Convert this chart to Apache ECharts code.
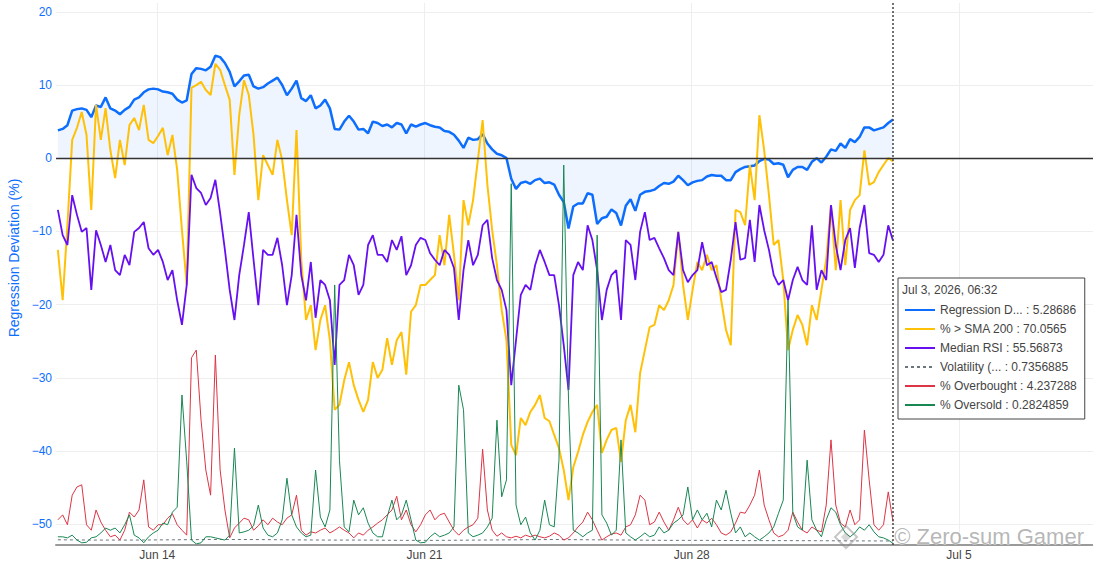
<!DOCTYPE html>
<html>
<head>
<meta charset="utf-8">
<script src="https://cdn.jsdelivr.net/npm/echarts@6/dist/echarts.min.js"></script>
<style>html,body{margin:0;padding:0;background:#fff}#c{width:1093px;height:565px}</style>
</head>
<body>
<div id="c"></div>
<script>
// ---- time sampling ----
const startTime = '2026-06-11T09:32:00Z';
const stepHours = 3;
const hoverLabel = 'Jul 3, 2026, 06:32';
const monthNames = ['Jan','Feb','Mar','Apr','May','Jun','Jul','Aug','Sep','Oct','Nov','Dec'];
const yAxisTitle = 'Regression Deviation (%)';
const watermark = '\u00A9 Zero-sum Gamer';

// ---- series values (3-hourly) ----
const regressionDeviation = [3.8,4.0,4.5,6.5,6.7,6.8,6.6,5.6,7.2,7.0,
 8.3,6.8,6.5,6.0,6.6,7.0,8.0,8.3,9.0,9.4,
 9.5,9.4,9.1,9.0,8.8,8.0,7.6,7.9,11.5,12.3,
 12.2,12.0,12.5,14.0,13.8,13.0,11.8,9.8,10.5,11.3,
 11.4,9.8,9.5,9.7,10.2,10.6,11.0,10.0,8.6,9.5,
 10.6,8.2,7.8,8.6,6.8,7.2,8.0,6.8,4.0,3.9,
 5.0,5.8,5.0,3.9,4.0,3.4,5.0,4.8,4.4,4.6,
 4.2,4.8,4.6,3.4,4.6,4.3,4.6,4.8,4.5,4.3,
 4.2,3.7,3.6,3.2,2.4,1.4,2.8,2.5,2.6,3.3,
 2.0,1.2,0.6,0.4,0.0,-2.8,-4.2,-3.4,-3.2,-3.5,
 -3.0,-2.8,-3.4,-3.3,-3.6,-5.0,-6.0,-9.6,-6.6,-6.2,
 -6.2,-4.8,-5.0,-9.0,-8.2,-8.0,-7.0,-7.5,-9.2,-6.5,
 -5.6,-7.2,-5.0,-4.6,-4.5,-4.3,-3.8,-3.4,-3.5,-3.2,
 -2.4,-3.0,-3.7,-3.3,-3.1,-3.0,-2.5,-2.3,-2.4,-2.4,
 -3.0,-3.0,-1.9,-1.5,-1.2,-1.1,-1.0,-0.4,-0.1,-0.2,
 -0.8,-0.7,-0.9,-2.6,-1.6,-1.2,-1.2,-1.6,-0.5,0.0,
 -0.6,0.2,1.2,1.0,2.0,1.4,2.6,2.2,2.9,4.2,
 4.2,3.8,4.0,4.2,4.8,5.28686];

const pctAboveSma200 = [53.9,44.7,58.4,74.0,76.2,79.1,74.9,61.2,80.4,74.0,
 79.8,72.1,67.0,74.0,69.4,76.7,78.0,75.8,80.4,74.0,
 73.4,74.7,76.2,71.2,74.9,68.5,57.5,47.5,83.5,84.0,
 84.6,83.1,82.2,87.9,86.8,84.0,81.3,67.6,78.5,84.9,
 82.2,74.9,63.0,71.2,69.4,67.6,74.0,70.3,63.0,56.6,
 75.8,52.1,41.1,43.8,35.6,41.1,43.8,37.4,24.7,25.6,
 30.1,33.4,29.2,26.5,24.3,26.5,33.4,30.5,32.0,37.8,
 32.9,37.4,38.9,31.1,42.6,43.8,47.5,47.5,48.4,49.3,
 56.6,51.1,60.3,53.0,44.7,63.0,58.4,63.0,70.3,77.6,
 65.8,57.5,51.1,42.9,37.4,18.3,16.4,23.2,21.9,24.3,
 25.6,27.4,23.2,22.6,20.1,17.7,13.7,8.2,14.2,17.0,
 20.1,22.5,24.3,25.6,16.8,19.2,21.0,21.4,15.2,22.8,
 25.6,20.6,31.4,35.6,39.8,40.2,43.8,42.9,44.7,47.5,
 57.2,47.5,41.1,46.6,51.7,50.2,53.0,50.2,51.1,44.7,
 39.3,36.5,61.2,60.8,58.4,69.4,63.0,78.5,72.1,63.9,
 54.8,55.7,48.4,35.6,39.3,42.0,40.2,36.5,43.8,41.1,
 46.6,52.1,62.1,50.2,63.0,51.1,61.2,63.0,63.9,72.1,
 65.8,66.3,68.1,69.4,70.7,70.0565];

const medianRsi = [61.2,56.6,54.8,63.9,60.3,57.2,57.9,46.6,57.5,54.8,
 51.7,54.8,50.2,49.3,53.0,51.1,57.2,57.9,59.0,54.2,
 53.0,53.9,51.7,48.4,50.2,44.7,40.2,47.5,67.6,65.2,
 64.3,62.1,63.4,66.7,60.6,53.9,46.6,41.1,49.3,54.8,
 60.8,52.1,43.8,53.9,53.0,53.0,56.1,51.1,43.8,49.3,
 60.3,49.3,44.7,51.7,41.5,48.4,47.5,44.7,32.9,47.5,
 48.4,53.0,51.1,45.7,47.5,54.8,56.6,53.0,53.0,51.7,
 55.7,53.9,56.4,49.3,51.1,54.8,56.1,55.7,53.3,52.1,
 51.1,53.9,53.0,50.6,41.1,50.2,55.7,51.1,53.0,58.4,
 59.4,52.4,48.4,46.6,42.9,29.2,37.4,45.7,47.5,46.6,
 51.1,53.9,51.7,49.3,49.3,43.8,36.5,28.3,49.3,51.7,
 50.2,58.4,55.7,50.2,41.1,46.6,49.3,50.2,41.1,55.7,
 54.8,48.4,57.2,60.8,55.7,56.1,54.2,52.4,50.2,49.3,
 57.2,50.2,48.0,49.3,50.2,55.3,51.1,51.7,48.8,46.2,
 46.6,52.1,59.0,52.1,52.4,59.4,51.7,62.1,57.5,53.9,
 49.3,47.5,48.4,44.7,48.4,50.8,48.4,47.5,58.4,46.6,
 50.2,48.4,62.1,54.8,50.2,55.7,57.9,50.6,57.9,62.1,
 53.3,53.0,51.7,53.0,58.4,55.56873];

// daily values (last one at the hover time)
const volatility = [0.95,0.9,0.9,0.95,1.0,1.0,0.95,0.9,0.9,0.85,
 0.85,0.9,0.95,1.0,0.95,0.9,0.85,0.85,0.8,0.8,
 0.78,0.75,0.7356885];

const pctOverbought = [4.6,5.5,3.7,9.1,10.6,11.0,3.7,2.7,6.4,4.2,
 2.7,1.5,1.8,0.9,2.7,6.0,5.1,6.4,11.9,3.3,
 2.7,3.7,3.7,4.9,5.7,3.7,2.7,1.8,34.2,35.6,
 22.8,13.7,9.1,34.7,13.7,6.4,1.3,3.1,4.0,4.9,
 4.6,2.7,3.5,4.6,3.7,4.9,4.2,3.7,4.9,5.5,
 9.1,2.7,1.8,2.4,2.2,2.7,3.1,2.2,2.7,3.3,
 2.7,2.2,1.3,2.2,1.8,2.7,3.3,4.0,4.6,5.5,
 6.4,8.9,4.6,6.4,3.7,2.4,3.7,5.5,6.4,4.6,
 5.5,5.8,4.2,2.7,1.8,2.7,3.3,3.7,4.9,17.5,
 6.4,2.7,1.6,2.2,1.5,1.3,1.6,1.3,1.8,1.5,
 1.8,1.5,1.3,1.6,2.2,1.8,0.9,1.3,2.2,3.3,
 4.2,6.0,4.6,2.7,0.9,1.5,2.0,2.2,1.8,3.3,
 3.7,5.5,9.1,8.2,3.7,4.2,6.0,4.2,2.7,4.6,
 6.9,4.6,3.7,4.6,3.1,4.6,4.0,4.9,3.7,2.2,
 1.8,2.4,4.0,6.0,5.8,7.3,9.1,13.7,7.3,4.6,
 2.2,1.5,1.8,2.7,6.0,4.2,2.7,2.2,3.3,2.7,
 2.4,7.3,19.2,7.3,4.0,3.3,6.4,3.7,4.6,21.0,
 11.9,3.7,2.7,3.7,9.7,4.237288];

const pctOversold = [1.5,1.5,1.3,1.8,0.9,0.4,0.5,1.3,1.5,2.2,
 3.1,2.7,3.1,2.2,3.7,5.5,1.8,1.3,0.4,1.5,
 2.2,2.7,4.0,3.7,6.0,6.9,27.4,15.2,0.9,0.2,
 0.4,1.5,1.5,1.3,1.1,0.9,1.8,17.7,2.2,2.4,
 2.7,3.5,7.3,3.1,1.8,1.5,2.2,4.6,12.2,5.5,
 3.3,2.2,1.5,1.8,13.7,5.1,3.3,6.4,47.5,15.5,
 3.3,2.4,8.2,5.5,6.8,4.0,2.2,1.5,1.5,5.1,
 8.2,4.6,5.5,8.2,4.6,0.9,0.4,0.5,1.5,2.2,
 1.5,1.8,2.2,3.3,29.2,24.7,2.2,1.5,1.8,2.2,
 3.3,4.9,22.8,8.8,11.9,66.0,7.3,3.7,5.1,2.2,
 0.9,2.7,8.2,3.7,3.3,15.5,69.4,26.5,2.7,2.2,
 1.5,2.2,2.7,56.6,5.5,4.0,1.8,2.7,19.2,2.2,
 1.5,0.9,1.5,2.2,1.5,1.8,3.3,2.2,2.7,4.0,
 4.6,5.5,10.6,4.6,6.4,4.6,5.8,3.3,8.2,6.4,
 10.0,5.8,2.2,3.3,1.5,2.2,1.5,0.9,1.5,2.2,
 3.3,5.8,8.2,44.7,5.8,3.3,2.7,15.5,4.6,2.7,
 1.5,4.6,6.8,6.0,3.7,2.2,1.5,2.2,3.3,2.7,
 3.7,2.4,1.5,1.3,0.9,0.2824859];

// ---- build ----
const FONT = '"Liberation Sans", Arial, sans-serif';
const DAY = 86400000;
const refTime = Date.UTC(2026, 5, 14);
const t0 = Date.parse(startTime);
const toDays = t => (t - refTime) / DAY;
const xs = regressionDeviation.map((_, i) => toDays(t0 + i * stepHours * 3600000));
const lastX = xs[xs.length - 1];
const volXs = volatility.map((_, k) => k < volatility.length - 1 ? toDays(t0 + k * DAY) : lastX);
const pairs = (arr, xx) => arr.map((v, i) => [(xx || xs)[i], v]);
const fmtDate = v => { const d = new Date(refTime + v * DAY); return monthNames[d.getUTCMonth()] + ' ' + d.getUTCDate(); };
const fmtNum = v => v < 0 ? '\u2212' + Math.abs(v) : String(v);

const names = ['Regression D...', '% > SMA 200', 'Median RSI', 'Volatility (...', '% Overbought', '% Oversold'];
const lastVals = {};
[regressionDeviation, pctAboveSma200, medianRsi, volatility, pctOverbought, pctOversold]
  .forEach((a, i) => { lastVals[names[i]] = a[a.length - 1]; });

const chart = echarts.init(document.getElementById('c'), null, {renderer: 'svg'});
const option = {
  animation: false,
  textStyle: {fontFamily: FONT},
  grid: {left: 56, right: 0, top: 3, bottom: 20, containLabel: false},
  xAxis: {
    type: 'value', min: -2.652, max: 24.51, minInterval: 7, maxInterval: 7,
    axisLine: {show: true, onZero: false, lineStyle: {color: '#9a9a9a', width: 2}},
    axisTick: {show: false},
    axisLabel: {formatter: fmtDate, color: '#444', fontSize: 12, fontFamily: FONT, margin: 4, showMinLabel: false, showMaxLabel: false},
    splitLine: {show: true, lineStyle: {color: '#eeeeee', width: 1}, showMinLine: false, showMaxLine: false}
  },
  yAxis: [
    {
      type: 'value', min: -52.85, max: 21.2, minInterval: 10, maxInterval: 10,
      axisLine: {show: false}, axisTick: {show: false},
      axisLabel: {formatter: fmtNum, color: '#0d6efd', fontSize: 12, fontFamily: FONT, margin: 4, showMinLabel: false, showMaxLabel: false},
      splitLine: {show: true, lineStyle: {color: '#eeeeee', width: 1}, showMinLine: false, showMaxLine: false}
    },
    {type: 'value', min: 0, max: 99, show: false, splitLine: {show: false}}
  ],
  legend: {
    orient: 'vertical', left: 898, top: 278,
    padding: [26, 8, 8, 6], itemGap: 7, itemWidth: 30, itemHeight: 14,
    backgroundColor: '#fff', borderColor: '#444', borderWidth: 1,
    selectedMode: false,
    itemStyle: {opacity: 0},
    textStyle: {color: '#444', fontSize: 12, fontFamily: FONT},
    formatter: n => n + ' : ' + lastVals[n],
    data: names
  },
  graphic: [
    {type: 'text', z: 100, left: 902, top: 284, style: {text: hoverLabel, fill: '#444', font: '12px ' + FONT}},
    {type: 'text', z: 100, x: 14, y: 258, rotation: Math.PI / 2,
     style: {text: yAxisTitle, fill: '#0d6efd', font: '14px ' + FONT, align: 'center', verticalAlign: 'middle'}},
    {type: 'polygon', z: 100, shape: {points: [[846, 526], [857, 537], [846, 548], [835, 537]]},
     style: {fill: 'none', stroke: 'rgba(130,130,130,0.45)', lineWidth: 2}},
    {type: 'polygon', z: 100, shape: {points: [[846, 532], [851, 537], [846, 542], [841, 537]]},
     style: {fill: 'rgba(130,130,130,0.3)', stroke: 'none'}},
    {type: 'text', z: 100, x: 1084, y: 536,
     style: {text: watermark, fill: 'rgba(120,120,120,0.55)', stroke: 'rgba(255,255,255,0.7)', lineWidth: 1,
             font: '22px ' + FONT, align: 'right', verticalAlign: 'middle'}}
  ],
  series: [
    {
      name: names[0], type: 'line', yAxisIndex: 0, symbol: 'none', data: pairs(regressionDeviation),
      lineStyle: {color: '#0d6efd', width: 2.5}, itemStyle: {color: '#0d6efd'},
      areaStyle: {color: 'rgba(13,110,253,0.1)', origin: 'auto'},
      markLine: {
        silent: true, symbol: ['none', 'none'], label: {show: false}, animation: false,
        data: [
          {yAxis: 0, lineStyle: {color: '#333', width: 1.3, type: 'solid'}},
          {xAxis: lastX, lineStyle: {color: '#444', width: 1.5, type: [2, 2]}}
        ]
      }
    },
    {name: names[1], type: 'line', yAxisIndex: 1, symbol: 'none', data: pairs(pctAboveSma200),
     lineStyle: {color: '#ffc107', width: 2}, itemStyle: {color: '#ffc107'}},
    {name: names[2], type: 'line', yAxisIndex: 1, symbol: 'none', data: pairs(medianRsi),
     lineStyle: {color: '#6610f2', width: 1.8}, itemStyle: {color: '#6610f2'}},
    {name: names[3], type: 'line', yAxisIndex: 1, symbol: 'none', data: pairs(volatility, volXs),
     lineStyle: {color: '#6c757d', width: 1, type: [3, 3]}, itemStyle: {color: '#6c757d'}},
    {name: names[4], type: 'line', yAxisIndex: 1, symbol: 'none', data: pairs(pctOverbought),
     lineStyle: {color: '#dc3545', width: 1}, itemStyle: {color: '#dc3545'}},
    {name: names[5], type: 'line', yAxisIndex: 1, symbol: 'none', data: pairs(pctOversold),
     lineStyle: {color: '#198754', width: 1}, itemStyle: {color: '#198754'}}
  ]
};
chart.setOption(option);
</script>
</body>
</html>
